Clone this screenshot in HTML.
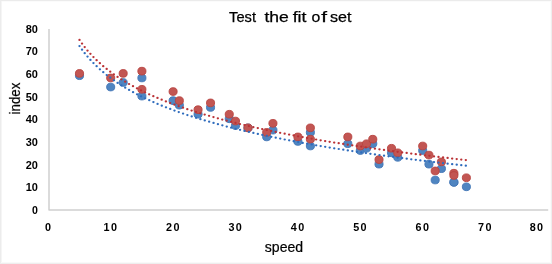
<!DOCTYPE html>
<html><head><meta charset="utf-8"><title>Test the fit of set</title>
<style>html,body{margin:0;padding:0;background:#fff;}svg{display:block;}</style></head>
<body>
<svg width="552" height="264" viewBox="0 0 552 264">
<rect x="0" y="0" width="552" height="264" fill="#fff"/>
<rect x="0" y="0" width="552" height="1" fill="#ebebeb"/><rect x="0" y="1" width="552" height="1" fill="#fbfbfb"/>
<rect x="0" y="0" width="1" height="264" fill="#ececec"/><rect x="1" y="1" width="1" height="262" fill="#f5f5f5"/>
<rect x="0" y="263" width="552" height="1" fill="#eeeeee"/><rect x="1" y="262" width="550" height="1" fill="#f9f9f9"/>
<rect x="551" y="0" width="1" height="264" fill="#eeeeee"/><rect x="550" y="1" width="1" height="262" fill="#fbfbfb"/>
<path d="M49 29 V210.1 H548.2" fill="none" stroke="#cfcfcf" stroke-width="1.5" stroke-linejoin="round"/>
<defs><filter id="soft" x="-5%" y="-5%" width="110%" height="110%"><feGaussianBlur stdDeviation="0.4"/></filter></defs>
<g filter="url(#soft)"><ellipse cx="79.50" cy="75.69" rx="4.05" ry="3.85" fill="#5085C1" stroke="#4175B5" stroke-width="0.9"/><ellipse cx="110.70" cy="87.03" rx="4.05" ry="3.85" fill="#5085C1" stroke="#4175B5" stroke-width="0.9"/><ellipse cx="123.18" cy="82.49" rx="4.05" ry="3.85" fill="#5085C1" stroke="#4175B5" stroke-width="0.9"/><ellipse cx="141.90" cy="77.96" rx="4.05" ry="3.85" fill="#5085C1" stroke="#4175B5" stroke-width="0.9"/><ellipse cx="141.90" cy="96.10" rx="4.05" ry="3.85" fill="#5085C1" stroke="#4175B5" stroke-width="0.9"/><ellipse cx="173.10" cy="100.64" rx="4.05" ry="3.85" fill="#5085C1" stroke="#4175B5" stroke-width="0.9"/><ellipse cx="179.34" cy="105.17" rx="4.05" ry="3.85" fill="#5085C1" stroke="#4175B5" stroke-width="0.9"/><ellipse cx="198.06" cy="114.24" rx="4.05" ry="3.85" fill="#5085C1" stroke="#4175B5" stroke-width="0.9"/><ellipse cx="210.54" cy="107.44" rx="4.05" ry="3.85" fill="#5085C1" stroke="#4175B5" stroke-width="0.9"/><ellipse cx="229.26" cy="118.78" rx="4.05" ry="3.85" fill="#5085C1" stroke="#4175B5" stroke-width="0.9"/><ellipse cx="235.50" cy="125.58" rx="4.05" ry="3.85" fill="#5085C1" stroke="#4175B5" stroke-width="0.9"/><ellipse cx="247.98" cy="127.85" rx="4.05" ry="3.85" fill="#5085C1" stroke="#4175B5" stroke-width="0.9"/><ellipse cx="266.70" cy="136.92" rx="4.05" ry="3.85" fill="#5085C1" stroke="#4175B5" stroke-width="0.9"/><ellipse cx="272.94" cy="130.12" rx="4.05" ry="3.85" fill="#5085C1" stroke="#4175B5" stroke-width="0.9"/><ellipse cx="297.90" cy="141.46" rx="4.05" ry="3.85" fill="#5085C1" stroke="#4175B5" stroke-width="0.9"/><ellipse cx="310.38" cy="132.39" rx="4.05" ry="3.85" fill="#5085C1" stroke="#4175B5" stroke-width="0.9"/><ellipse cx="310.38" cy="146.00" rx="4.05" ry="3.85" fill="#5085C1" stroke="#4175B5" stroke-width="0.9"/><ellipse cx="347.82" cy="143.73" rx="4.05" ry="3.85" fill="#5085C1" stroke="#4175B5" stroke-width="0.9"/><ellipse cx="360.30" cy="150.53" rx="4.05" ry="3.85" fill="#5085C1" stroke="#4175B5" stroke-width="0.9"/><ellipse cx="366.54" cy="148.26" rx="4.05" ry="3.85" fill="#5085C1" stroke="#4175B5" stroke-width="0.9"/><ellipse cx="372.78" cy="143.73" rx="4.05" ry="3.85" fill="#5085C1" stroke="#4175B5" stroke-width="0.9"/><ellipse cx="379.02" cy="164.14" rx="4.05" ry="3.85" fill="#5085C1" stroke="#4175B5" stroke-width="0.9"/><ellipse cx="391.50" cy="152.80" rx="4.05" ry="3.85" fill="#5085C1" stroke="#4175B5" stroke-width="0.9"/><ellipse cx="397.74" cy="157.34" rx="4.05" ry="3.85" fill="#5085C1" stroke="#4175B5" stroke-width="0.9"/><ellipse cx="422.70" cy="150.53" rx="4.05" ry="3.85" fill="#5085C1" stroke="#4175B5" stroke-width="0.9"/><ellipse cx="428.94" cy="164.14" rx="4.05" ry="3.85" fill="#5085C1" stroke="#4175B5" stroke-width="0.9"/><ellipse cx="435.18" cy="180.02" rx="4.05" ry="3.85" fill="#5085C1" stroke="#4175B5" stroke-width="0.9"/><ellipse cx="441.42" cy="168.68" rx="4.05" ry="3.85" fill="#5085C1" stroke="#4175B5" stroke-width="0.9"/><ellipse cx="453.90" cy="182.28" rx="4.05" ry="3.85" fill="#5085C1" stroke="#4175B5" stroke-width="0.9"/><ellipse cx="453.90" cy="182.28" rx="4.05" ry="3.85" fill="#5085C1" stroke="#4175B5" stroke-width="0.9"/><ellipse cx="466.38" cy="186.82" rx="4.05" ry="3.85" fill="#5085C1" stroke="#4175B5" stroke-width="0.9"/><ellipse cx="79.50" cy="73.42" rx="4.05" ry="3.85" fill="#C25652" stroke="#B84441" stroke-width="0.9"/><ellipse cx="110.70" cy="77.96" rx="4.05" ry="3.85" fill="#C25652" stroke="#B84441" stroke-width="0.9"/><ellipse cx="123.18" cy="73.42" rx="4.05" ry="3.85" fill="#C25652" stroke="#B84441" stroke-width="0.9"/><ellipse cx="141.90" cy="71.15" rx="4.05" ry="3.85" fill="#C25652" stroke="#B84441" stroke-width="0.9"/><ellipse cx="141.90" cy="89.30" rx="4.05" ry="3.85" fill="#C25652" stroke="#B84441" stroke-width="0.9"/><ellipse cx="173.10" cy="91.56" rx="4.05" ry="3.85" fill="#C25652" stroke="#B84441" stroke-width="0.9"/><ellipse cx="179.34" cy="100.64" rx="4.05" ry="3.85" fill="#C25652" stroke="#B84441" stroke-width="0.9"/><ellipse cx="198.06" cy="109.71" rx="4.05" ry="3.85" fill="#C25652" stroke="#B84441" stroke-width="0.9"/><ellipse cx="210.54" cy="102.90" rx="4.05" ry="3.85" fill="#C25652" stroke="#B84441" stroke-width="0.9"/><ellipse cx="229.26" cy="114.24" rx="4.05" ry="3.85" fill="#C25652" stroke="#B84441" stroke-width="0.9"/><ellipse cx="235.50" cy="121.05" rx="4.05" ry="3.85" fill="#C25652" stroke="#B84441" stroke-width="0.9"/><ellipse cx="247.98" cy="127.85" rx="4.05" ry="3.85" fill="#C25652" stroke="#B84441" stroke-width="0.9"/><ellipse cx="266.70" cy="132.39" rx="4.05" ry="3.85" fill="#C25652" stroke="#B84441" stroke-width="0.9"/><ellipse cx="272.94" cy="123.32" rx="4.05" ry="3.85" fill="#C25652" stroke="#B84441" stroke-width="0.9"/><ellipse cx="297.90" cy="136.92" rx="4.05" ry="3.85" fill="#C25652" stroke="#B84441" stroke-width="0.9"/><ellipse cx="310.38" cy="127.85" rx="4.05" ry="3.85" fill="#C25652" stroke="#B84441" stroke-width="0.9"/><ellipse cx="310.38" cy="139.19" rx="4.05" ry="3.85" fill="#C25652" stroke="#B84441" stroke-width="0.9"/><ellipse cx="347.82" cy="136.92" rx="4.05" ry="3.85" fill="#C25652" stroke="#B84441" stroke-width="0.9"/><ellipse cx="360.30" cy="146.00" rx="4.05" ry="3.85" fill="#C25652" stroke="#B84441" stroke-width="0.9"/><ellipse cx="366.54" cy="143.73" rx="4.05" ry="3.85" fill="#C25652" stroke="#B84441" stroke-width="0.9"/><ellipse cx="372.78" cy="139.19" rx="4.05" ry="3.85" fill="#C25652" stroke="#B84441" stroke-width="0.9"/><ellipse cx="379.02" cy="159.60" rx="4.05" ry="3.85" fill="#C25652" stroke="#B84441" stroke-width="0.9"/><ellipse cx="391.50" cy="148.26" rx="4.05" ry="3.85" fill="#C25652" stroke="#B84441" stroke-width="0.9"/><ellipse cx="397.74" cy="152.80" rx="4.05" ry="3.85" fill="#C25652" stroke="#B84441" stroke-width="0.9"/><ellipse cx="422.70" cy="146.00" rx="4.05" ry="3.85" fill="#C25652" stroke="#B84441" stroke-width="0.9"/><ellipse cx="428.94" cy="155.07" rx="4.05" ry="3.85" fill="#C25652" stroke="#B84441" stroke-width="0.9"/><ellipse cx="435.18" cy="170.94" rx="4.05" ry="3.85" fill="#C25652" stroke="#B84441" stroke-width="0.9"/><ellipse cx="441.42" cy="161.87" rx="4.05" ry="3.85" fill="#C25652" stroke="#B84441" stroke-width="0.9"/><ellipse cx="453.90" cy="173.21" rx="4.05" ry="3.85" fill="#C25652" stroke="#B84441" stroke-width="0.9"/><ellipse cx="453.90" cy="175.48" rx="4.05" ry="3.85" fill="#C25652" stroke="#B84441" stroke-width="0.9"/><ellipse cx="466.38" cy="177.75" rx="4.05" ry="3.85" fill="#C25652" stroke="#B84441" stroke-width="0.9"/></g>
<g fill="#2F6CBD" filter="url(#soft)"><ellipse cx="79.50" cy="46.05" rx="1.2" ry="1.12"/><ellipse cx="82.04" cy="49.67" rx="1.2" ry="1.12"/><ellipse cx="84.70" cy="53.17" rx="1.2" ry="1.12"/><ellipse cx="87.50" cy="56.59" rx="1.2" ry="1.12"/><ellipse cx="90.42" cy="59.90" rx="1.2" ry="1.12"/><ellipse cx="93.46" cy="63.12" rx="1.2" ry="1.12"/><ellipse cx="96.62" cy="66.24" rx="1.2" ry="1.12"/><ellipse cx="99.90" cy="69.27" rx="1.2" ry="1.12"/><ellipse cx="103.26" cy="72.18" rx="1.2" ry="1.12"/><ellipse cx="106.74" cy="75.01" rx="1.2" ry="1.12"/><ellipse cx="110.28" cy="77.73" rx="1.2" ry="1.12"/><ellipse cx="113.92" cy="80.36" rx="1.2" ry="1.12"/><ellipse cx="117.62" cy="82.89" rx="1.2" ry="1.12"/><ellipse cx="121.40" cy="85.34" rx="1.2" ry="1.12"/><ellipse cx="125.24" cy="87.70" rx="1.2" ry="1.12"/><ellipse cx="129.12" cy="89.97" rx="1.2" ry="1.12"/><ellipse cx="133.06" cy="92.17" rx="1.2" ry="1.12"/><ellipse cx="137.06" cy="94.30" rx="1.2" ry="1.12"/><ellipse cx="141.08" cy="96.34" rx="1.2" ry="1.12"/><ellipse cx="145.16" cy="98.33" rx="1.2" ry="1.12"/><ellipse cx="149.26" cy="100.24" rx="1.2" ry="1.12"/><ellipse cx="153.40" cy="102.09" rx="1.2" ry="1.12"/><ellipse cx="157.56" cy="103.89" rx="1.2" ry="1.12"/><ellipse cx="161.76" cy="105.63" rx="1.2" ry="1.12"/><ellipse cx="165.98" cy="107.31" rx="1.2" ry="1.12"/><ellipse cx="170.22" cy="108.94" rx="1.2" ry="1.12"/><ellipse cx="174.48" cy="110.53" rx="1.2" ry="1.12"/><ellipse cx="178.76" cy="112.07" rx="1.2" ry="1.12"/><ellipse cx="183.06" cy="113.56" rx="1.2" ry="1.12"/><ellipse cx="187.38" cy="115.02" rx="1.2" ry="1.12"/><ellipse cx="191.70" cy="116.43" rx="1.2" ry="1.12"/><ellipse cx="196.04" cy="117.81" rx="1.2" ry="1.12"/><ellipse cx="200.40" cy="119.15" rx="1.2" ry="1.12"/><ellipse cx="204.76" cy="120.45" rx="1.2" ry="1.12"/><ellipse cx="209.14" cy="121.73" rx="1.2" ry="1.12"/><ellipse cx="213.54" cy="122.97" rx="1.2" ry="1.12"/><ellipse cx="217.94" cy="124.19" rx="1.2" ry="1.12"/><ellipse cx="222.34" cy="125.37" rx="1.2" ry="1.12"/><ellipse cx="226.76" cy="126.52" rx="1.2" ry="1.12"/><ellipse cx="231.18" cy="127.65" rx="1.2" ry="1.12"/><ellipse cx="235.60" cy="128.76" rx="1.2" ry="1.12"/><ellipse cx="240.04" cy="129.84" rx="1.2" ry="1.12"/><ellipse cx="244.48" cy="130.89" rx="1.2" ry="1.12"/><ellipse cx="248.94" cy="131.93" rx="1.2" ry="1.12"/><ellipse cx="253.38" cy="132.94" rx="1.2" ry="1.12"/><ellipse cx="257.84" cy="133.93" rx="1.2" ry="1.12"/><ellipse cx="262.32" cy="134.91" rx="1.2" ry="1.12"/><ellipse cx="266.78" cy="135.86" rx="1.2" ry="1.12"/><ellipse cx="271.26" cy="136.80" rx="1.2" ry="1.12"/><ellipse cx="275.74" cy="137.71" rx="1.2" ry="1.12"/><ellipse cx="280.22" cy="138.61" rx="1.2" ry="1.12"/><ellipse cx="284.70" cy="139.50" rx="1.2" ry="1.12"/><ellipse cx="289.18" cy="140.36" rx="1.2" ry="1.12"/><ellipse cx="293.68" cy="141.22" rx="1.2" ry="1.12"/><ellipse cx="298.18" cy="142.06" rx="1.2" ry="1.12"/><ellipse cx="302.68" cy="142.88" rx="1.2" ry="1.12"/><ellipse cx="307.18" cy="143.69" rx="1.2" ry="1.12"/><ellipse cx="311.68" cy="144.48" rx="1.2" ry="1.12"/><ellipse cx="316.18" cy="145.27" rx="1.2" ry="1.12"/><ellipse cx="320.70" cy="146.04" rx="1.2" ry="1.12"/><ellipse cx="325.20" cy="146.79" rx="1.2" ry="1.12"/><ellipse cx="329.72" cy="147.54" rx="1.2" ry="1.12"/><ellipse cx="334.24" cy="148.28" rx="1.2" ry="1.12"/><ellipse cx="338.76" cy="149.00" rx="1.2" ry="1.12"/><ellipse cx="343.28" cy="149.71" rx="1.2" ry="1.12"/><ellipse cx="347.80" cy="150.41" rx="1.2" ry="1.12"/><ellipse cx="352.32" cy="151.11" rx="1.2" ry="1.12"/><ellipse cx="356.84" cy="151.79" rx="1.2" ry="1.12"/><ellipse cx="361.36" cy="152.46" rx="1.2" ry="1.12"/><ellipse cx="365.90" cy="153.12" rx="1.2" ry="1.12"/><ellipse cx="370.42" cy="153.77" rx="1.2" ry="1.12"/><ellipse cx="374.96" cy="154.42" rx="1.2" ry="1.12"/><ellipse cx="379.48" cy="155.05" rx="1.2" ry="1.12"/><ellipse cx="384.02" cy="155.68" rx="1.2" ry="1.12"/><ellipse cx="388.56" cy="156.30" rx="1.2" ry="1.12"/><ellipse cx="393.10" cy="156.91" rx="1.2" ry="1.12"/><ellipse cx="397.64" cy="157.52" rx="1.2" ry="1.12"/><ellipse cx="402.18" cy="158.11" rx="1.2" ry="1.12"/><ellipse cx="406.72" cy="158.70" rx="1.2" ry="1.12"/><ellipse cx="411.26" cy="159.28" rx="1.2" ry="1.12"/><ellipse cx="415.80" cy="159.86" rx="1.2" ry="1.12"/><ellipse cx="420.34" cy="160.42" rx="1.2" ry="1.12"/><ellipse cx="424.88" cy="160.98" rx="1.2" ry="1.12"/><ellipse cx="429.42" cy="161.53" rx="1.2" ry="1.12"/><ellipse cx="433.98" cy="162.08" rx="1.2" ry="1.12"/><ellipse cx="438.52" cy="162.62" rx="1.2" ry="1.12"/><ellipse cx="443.06" cy="163.16" rx="1.2" ry="1.12"/><ellipse cx="447.62" cy="163.69" rx="1.2" ry="1.12"/><ellipse cx="452.16" cy="164.21" rx="1.2" ry="1.12"/><ellipse cx="456.72" cy="164.73" rx="1.2" ry="1.12"/><ellipse cx="461.26" cy="165.24" rx="1.2" ry="1.12"/><ellipse cx="465.82" cy="165.74" rx="1.2" ry="1.12"/></g>
<g fill="#BA3236" filter="url(#soft)"><ellipse cx="79.50" cy="39.98" rx="1.2" ry="1.12"/><ellipse cx="82.04" cy="43.60" rx="1.2" ry="1.12"/><ellipse cx="84.70" cy="47.11" rx="1.2" ry="1.12"/><ellipse cx="87.48" cy="50.52" rx="1.2" ry="1.12"/><ellipse cx="90.40" cy="53.85" rx="1.2" ry="1.12"/><ellipse cx="93.44" cy="57.07" rx="1.2" ry="1.12"/><ellipse cx="96.60" cy="60.21" rx="1.2" ry="1.12"/><ellipse cx="99.86" cy="63.23" rx="1.2" ry="1.12"/><ellipse cx="103.22" cy="66.15" rx="1.2" ry="1.12"/><ellipse cx="106.68" cy="68.98" rx="1.2" ry="1.12"/><ellipse cx="110.24" cy="71.72" rx="1.2" ry="1.12"/><ellipse cx="113.86" cy="74.35" rx="1.2" ry="1.12"/><ellipse cx="117.56" cy="76.89" rx="1.2" ry="1.12"/><ellipse cx="121.34" cy="79.35" rx="1.2" ry="1.12"/><ellipse cx="125.16" cy="81.71" rx="1.2" ry="1.12"/><ellipse cx="129.06" cy="84.00" rx="1.2" ry="1.12"/><ellipse cx="133.00" cy="86.21" rx="1.2" ry="1.12"/><ellipse cx="136.98" cy="88.33" rx="1.2" ry="1.12"/><ellipse cx="141.02" cy="90.39" rx="1.2" ry="1.12"/><ellipse cx="145.08" cy="92.38" rx="1.2" ry="1.12"/><ellipse cx="149.18" cy="94.30" rx="1.2" ry="1.12"/><ellipse cx="153.32" cy="96.16" rx="1.2" ry="1.12"/><ellipse cx="157.48" cy="97.96" rx="1.2" ry="1.12"/><ellipse cx="161.68" cy="99.71" rx="1.2" ry="1.12"/><ellipse cx="165.90" cy="101.40" rx="1.2" ry="1.12"/><ellipse cx="170.14" cy="103.04" rx="1.2" ry="1.12"/><ellipse cx="174.40" cy="104.63" rx="1.2" ry="1.12"/><ellipse cx="178.68" cy="106.17" rx="1.2" ry="1.12"/><ellipse cx="182.98" cy="107.68" rx="1.2" ry="1.12"/><ellipse cx="187.30" cy="109.14" rx="1.2" ry="1.12"/><ellipse cx="191.62" cy="110.55" rx="1.2" ry="1.12"/><ellipse cx="195.96" cy="111.94" rx="1.2" ry="1.12"/><ellipse cx="200.32" cy="113.28" rx="1.2" ry="1.12"/><ellipse cx="204.68" cy="114.59" rx="1.2" ry="1.12"/><ellipse cx="209.06" cy="115.87" rx="1.2" ry="1.12"/><ellipse cx="213.46" cy="117.12" rx="1.2" ry="1.12"/><ellipse cx="217.86" cy="118.34" rx="1.2" ry="1.12"/><ellipse cx="222.26" cy="119.52" rx="1.2" ry="1.12"/><ellipse cx="226.68" cy="120.68" rx="1.2" ry="1.12"/><ellipse cx="231.10" cy="121.82" rx="1.2" ry="1.12"/><ellipse cx="235.54" cy="122.93" rx="1.2" ry="1.12"/><ellipse cx="239.96" cy="124.01" rx="1.2" ry="1.12"/><ellipse cx="244.42" cy="125.07" rx="1.2" ry="1.12"/><ellipse cx="248.86" cy="126.11" rx="1.2" ry="1.12"/><ellipse cx="253.32" cy="127.13" rx="1.2" ry="1.12"/><ellipse cx="257.78" cy="128.12" rx="1.2" ry="1.12"/><ellipse cx="262.24" cy="129.10" rx="1.2" ry="1.12"/><ellipse cx="266.72" cy="130.06" rx="1.2" ry="1.12"/><ellipse cx="271.18" cy="130.99" rx="1.2" ry="1.12"/><ellipse cx="275.66" cy="131.92" rx="1.2" ry="1.12"/><ellipse cx="280.14" cy="132.82" rx="1.2" ry="1.12"/><ellipse cx="284.64" cy="133.71" rx="1.2" ry="1.12"/><ellipse cx="289.12" cy="134.58" rx="1.2" ry="1.12"/><ellipse cx="293.62" cy="135.43" rx="1.2" ry="1.12"/><ellipse cx="298.12" cy="136.28" rx="1.2" ry="1.12"/><ellipse cx="302.62" cy="137.10" rx="1.2" ry="1.12"/><ellipse cx="307.12" cy="137.91" rx="1.2" ry="1.12"/><ellipse cx="311.62" cy="138.71" rx="1.2" ry="1.12"/><ellipse cx="316.14" cy="139.50" rx="1.2" ry="1.12"/><ellipse cx="320.64" cy="140.27" rx="1.2" ry="1.12"/><ellipse cx="325.16" cy="141.03" rx="1.2" ry="1.12"/><ellipse cx="329.66" cy="141.78" rx="1.2" ry="1.12"/><ellipse cx="334.18" cy="142.52" rx="1.2" ry="1.12"/><ellipse cx="338.70" cy="143.24" rx="1.2" ry="1.12"/><ellipse cx="343.22" cy="143.96" rx="1.2" ry="1.12"/><ellipse cx="347.76" cy="144.67" rx="1.2" ry="1.12"/><ellipse cx="352.28" cy="145.36" rx="1.2" ry="1.12"/><ellipse cx="356.80" cy="146.04" rx="1.2" ry="1.12"/><ellipse cx="361.34" cy="146.72" rx="1.2" ry="1.12"/><ellipse cx="365.86" cy="147.38" rx="1.2" ry="1.12"/><ellipse cx="370.40" cy="148.04" rx="1.2" ry="1.12"/><ellipse cx="374.92" cy="148.68" rx="1.2" ry="1.12"/><ellipse cx="379.46" cy="149.32" rx="1.2" ry="1.12"/><ellipse cx="384.00" cy="149.95" rx="1.2" ry="1.12"/><ellipse cx="388.54" cy="150.58" rx="1.2" ry="1.12"/><ellipse cx="393.06" cy="151.19" rx="1.2" ry="1.12"/><ellipse cx="397.60" cy="151.79" rx="1.2" ry="1.12"/><ellipse cx="402.14" cy="152.39" rx="1.2" ry="1.12"/><ellipse cx="406.68" cy="152.98" rx="1.2" ry="1.12"/><ellipse cx="411.24" cy="153.57" rx="1.2" ry="1.12"/><ellipse cx="415.78" cy="154.14" rx="1.2" ry="1.12"/><ellipse cx="420.32" cy="154.71" rx="1.2" ry="1.12"/><ellipse cx="424.86" cy="155.27" rx="1.2" ry="1.12"/><ellipse cx="429.42" cy="155.83" rx="1.2" ry="1.12"/><ellipse cx="433.96" cy="156.38" rx="1.2" ry="1.12"/><ellipse cx="438.50" cy="156.92" rx="1.2" ry="1.12"/><ellipse cx="443.06" cy="157.46" rx="1.2" ry="1.12"/><ellipse cx="447.60" cy="157.99" rx="1.2" ry="1.12"/><ellipse cx="452.16" cy="158.51" rx="1.2" ry="1.12"/><ellipse cx="456.70" cy="159.03" rx="1.2" ry="1.12"/><ellipse cx="461.26" cy="159.54" rx="1.2" ry="1.12"/><ellipse cx="465.82" cy="160.05" rx="1.2" ry="1.12"/></g>
<text y="22.35" font-family="'Liberation Sans', sans-serif" font-size="14.8" fill="#000" stroke="#000" stroke-width="0.25" style="white-space:pre"><tspan x="229.10" textLength="26.90" lengthAdjust="spacingAndGlyphs">Test</tspan>  <tspan x="264.40" textLength="24.40" lengthAdjust="spacingAndGlyphs">the</tspan> <tspan x="292.70" textLength="13.80" lengthAdjust="spacingAndGlyphs">fit</tspan> <tspan x="311.40" textLength="8.80" lengthAdjust="spacingAndGlyphs">o</tspan><tspan x="321.20" textLength="5.80" lengthAdjust="spacingAndGlyphs">f</tspan> <tspan x="329.90" textLength="21.50" lengthAdjust="spacingAndGlyphs">set</tspan></text>
<text x="264.8" y="252.1" font-family="'Liberation Sans', sans-serif" font-size="14.2" fill="#000" stroke="#000" stroke-width="0.2" textLength="38.3" lengthAdjust="spacingAndGlyphs">speed</text>
<text transform="translate(20.1 114.4) rotate(-90)" font-family="'Liberation Sans', sans-serif" font-size="14.2" fill="#000" stroke="#000" stroke-width="0.2" textLength="31.8" lengthAdjust="spacingAndGlyphs">index</text>
<text x="32.00" y="214.10" font-family="'Liberation Sans', sans-serif" font-size="10.8" font-weight="bold" fill="#000" textLength="5.9" lengthAdjust="spacingAndGlyphs">0</text>
<text x="25.70" y="191.42" font-family="'Liberation Sans', sans-serif" font-size="10.8" font-weight="bold" fill="#000" textLength="12.2" lengthAdjust="spacingAndGlyphs">10</text>
<text x="25.70" y="168.74" font-family="'Liberation Sans', sans-serif" font-size="10.8" font-weight="bold" fill="#000" textLength="12.2" lengthAdjust="spacingAndGlyphs">20</text>
<text x="25.70" y="146.06" font-family="'Liberation Sans', sans-serif" font-size="10.8" font-weight="bold" fill="#000" textLength="12.2" lengthAdjust="spacingAndGlyphs">30</text>
<text x="25.70" y="123.38" font-family="'Liberation Sans', sans-serif" font-size="10.8" font-weight="bold" fill="#000" textLength="12.2" lengthAdjust="spacingAndGlyphs">40</text>
<text x="25.70" y="100.70" font-family="'Liberation Sans', sans-serif" font-size="10.8" font-weight="bold" fill="#000" textLength="12.2" lengthAdjust="spacingAndGlyphs">50</text>
<text x="25.70" y="78.02" font-family="'Liberation Sans', sans-serif" font-size="10.8" font-weight="bold" fill="#000" textLength="12.2" lengthAdjust="spacingAndGlyphs">60</text>
<text x="25.70" y="55.34" font-family="'Liberation Sans', sans-serif" font-size="10.8" font-weight="bold" fill="#000" textLength="12.2" lengthAdjust="spacingAndGlyphs">70</text>
<text x="25.70" y="32.66" font-family="'Liberation Sans', sans-serif" font-size="10.8" font-weight="bold" fill="#000" textLength="12.2" lengthAdjust="spacingAndGlyphs">80</text>
<text x="44.95" y="230.7" font-family="'Liberation Sans', sans-serif" font-size="10.8" font-weight="bold" fill="#000" textLength="5.9" lengthAdjust="spacing">0</text>
<text x="103.60" y="230.7" font-family="'Liberation Sans', sans-serif" font-size="10.8" font-weight="bold" fill="#000" textLength="13.4" lengthAdjust="spacing">10</text>
<text x="166.00" y="230.7" font-family="'Liberation Sans', sans-serif" font-size="10.8" font-weight="bold" fill="#000" textLength="13.4" lengthAdjust="spacing">20</text>
<text x="228.40" y="230.7" font-family="'Liberation Sans', sans-serif" font-size="10.8" font-weight="bold" fill="#000" textLength="13.4" lengthAdjust="spacing">30</text>
<text x="290.80" y="230.7" font-family="'Liberation Sans', sans-serif" font-size="10.8" font-weight="bold" fill="#000" textLength="13.4" lengthAdjust="spacing">40</text>
<text x="353.20" y="230.7" font-family="'Liberation Sans', sans-serif" font-size="10.8" font-weight="bold" fill="#000" textLength="13.4" lengthAdjust="spacing">50</text>
<text x="415.60" y="230.7" font-family="'Liberation Sans', sans-serif" font-size="10.8" font-weight="bold" fill="#000" textLength="13.4" lengthAdjust="spacing">60</text>
<text x="478.00" y="230.7" font-family="'Liberation Sans', sans-serif" font-size="10.8" font-weight="bold" fill="#000" textLength="13.4" lengthAdjust="spacing">70</text>
<text x="529.70" y="230.7" font-family="'Liberation Sans', sans-serif" font-size="10.8" font-weight="bold" fill="#000" textLength="13.4" lengthAdjust="spacing">80</text>
</svg>
</body></html>
